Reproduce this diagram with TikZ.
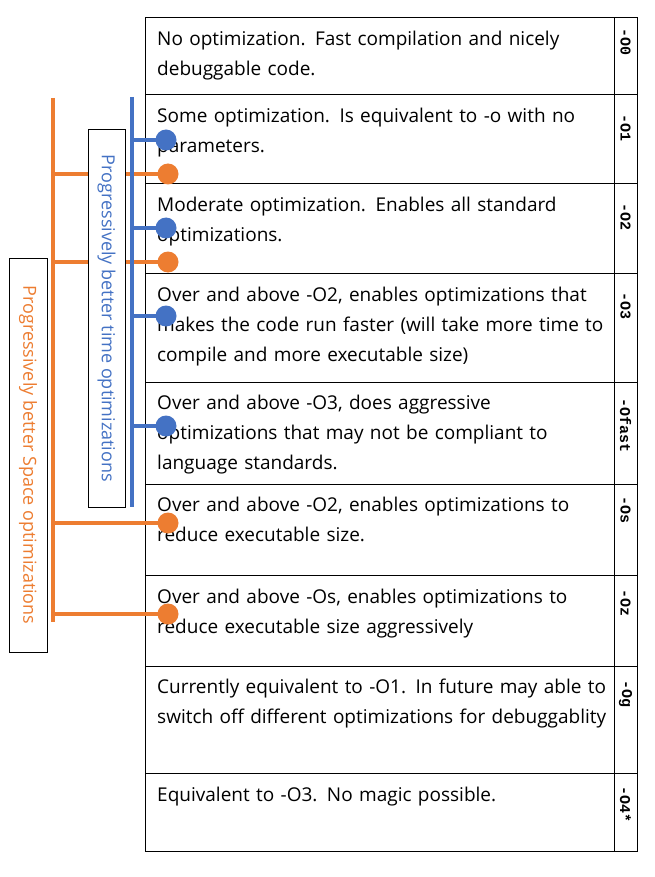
\documentclass[tikz,border=0pt]{standalone}
\usepackage{fontspec}
\setmainfont{Open Sans}
\setmonofont{Liberation Mono}
\definecolor{og}{HTML}{ED7D31}
\definecolor{bl}{HTML}{4472C4}
\hyphenpenalty=10000
\exhyphenpenalty=10000
\begin{document}
\begin{tikzpicture}[x=1pt,y=-1pt,
 txt/.style={anchor=north west,text width=455pt,inner sep=0pt,align=left,font=\fontsize{19pt}{30pt}\selectfont},
 lab/.style={rotate=-90,anchor=west,inner sep=0pt,font=\ttfamily\fontsize{15pt}{15pt}\selectfont\bfseries},
 odot/.style={circle,fill=og,minimum size=21pt,inner sep=0pt},
 bdot/.style={circle,fill=bl,minimum size=21pt,inner sep=0pt}]
\useasboundingbox (0,0) rectangle (655,877);
\fill[white] (0,0) rectangle (655,877);
% table
\draw[line width=1pt] (145,18) rectangle (637,851);
\draw[line width=1pt] (614,18) -- (614,851);
\foreach \y in {95,184,273,382,484,575,666,773} \draw[line width=1pt] (145,\y) -- (637,\y);
\node[txt] (t0) at (157,31) {No optimization. Fast compilation and nicely debuggable code.};
\node[txt] (t1) at (157,108) {Some optimization. Is equivalent to -o with no parameters.};
\node[txt] (t2) at (157,197) {Moderate optimization. Enables all standard optimizations.};
\node[txt] (t3) at (157,287) {Over and above -O2, enables optimizations that makes the code run faster (will take more time to compile and more executable size)};
\node[txt] (t4) at (157,395) {Over and above -O3, does aggressive optimizations that may not be compliant to language standards.};
\node[txt] (t5) at (157,497) {Over and above -O2, enables optimizations to reduce executable size.};
\node[txt] (t6) at (157,589) {Over and above -Os, enables optimizations to reduce executable size aggressively};
\node[txt] (t7) at (157,679) {Currently equivalent to -O1. In future may able to switch off different optimizations for debuggablity};
\node[txt] (t8) at (157,787) {Equivalent to -O3. No magic possible.};
\foreach \y/\l/\n in {28/-O0/l0,114/-O1/l1,203/-O2/l2,292/-O3/l3,398/-Ofast/l4,496/-Os/l5,589/-Oz/l6,680/-Og/l7,786/-O4*/l8}
  \node[lab] (\n) at (625.5,\y) {\l};
% orange
\coordinate (ot) at (53,98); \coordinate (ob) at (53,622);
\draw[og,line width=3.5pt] (ot) -- (ob);
\node[odot] (o1) at (168,174) {};
\node[odot] (o2) at (168,262) {};
\node[odot] (o3) at (168,523) {};
\node[odot] (o4) at (168,614) {};
\foreach \o/\y in {o1/174,o2/262,o3/523,o4/614} \draw[og,line width=3.5pt] (53,\y) -- (\o.center);
% blue
\coordinate (bt) at (132,97); \coordinate (bb) at (132,507);
\draw[bl,line width=3.5pt] (bt) -- (bb);
\node[bdot] (b1) at (166,140) {};
\node[bdot] (b2) at (166,228) {};
\node[bdot] (b3) at (166,316) {};
\node[bdot] (b4) at (166,426) {};
\foreach \b/\y in {b1/140,b2/228,b3/316,b4/426} \draw[bl,line width=3.5pt] (132,\y) -- (\b.center);
% boxes
\node[draw,fill=white,line width=1pt,minimum width=37pt,minimum height=377pt,inner sep=0pt] (bbox) at (106.5,318.5) {};
\node[rotate=-90,text=bl,font=\fontsize{18pt}{18pt}\selectfont] (btxt) at (bbox.center) {Progressively better time optimizations};
\node[draw,fill=white,line width=1pt,minimum width=38pt,minimum height=394pt,inner sep=0pt] (obox) at (28,455) {};
\node[rotate=-90,text=og,font=\fontsize{18pt}{18pt}\selectfont] (otxt) at (obox.center) {Progressively better Space optimizations};
\end{tikzpicture}
\end{document}
